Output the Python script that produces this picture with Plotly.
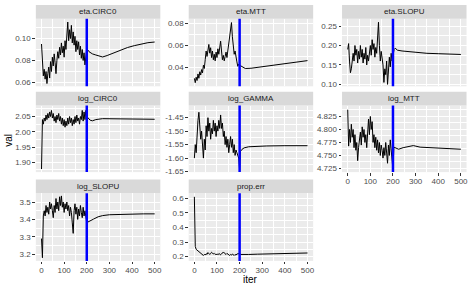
import plotly.graph_objects as go

W, H = 474, 292

PANELS = ["eta.CIRC0", "eta.MTT", "eta.SLOPU",
          "log_CIRC0", "log_GAMMA", "log_MTT",
          "log_SLOPU", "prop.err"]

ITER_BURN = list(range(0, 201, 4))

# ---- eta.CIRC0 ----
eta_circ0_burn = [
    0.095, 0.078, 0.066, 0.072, 0.063, 0.070, 0.059, 0.068, 0.074, 0.064,
    0.079, 0.070, 0.083, 0.075, 0.086, 0.078, 0.068, 0.080, 0.088, 0.082,
    0.092, 0.085, 0.096, 0.087, 0.093, 0.083, 0.098, 0.090, 0.104, 0.115,
    0.098, 0.108, 0.100, 0.112, 0.096, 0.106, 0.094, 0.102, 0.088, 0.098,
    0.090, 0.097, 0.085, 0.093, 0.082, 0.090, 0.080, 0.087, 0.076, 0.084,
    0.091]
eta_circ0_tail_iter = [210, 225, 240, 255, 270, 290, 320, 350, 380, 410, 440, 470, 500]
eta_circ0_tail = [0.088, 0.086, 0.085, 0.084, 0.0832, 0.0845, 0.0870, 0.0895,
                  0.0918, 0.0935, 0.0950, 0.0962, 0.0968]

# ---- eta.MTT ----
eta_mtt_burn = [
    0.030, 0.026, 0.031, 0.028, 0.034, 0.030, 0.036, 0.033, 0.038, 0.035,
    0.042, 0.039, 0.047, 0.055, 0.050, 0.057, 0.061, 0.053, 0.058, 0.049,
    0.055, 0.047, 0.052, 0.046, 0.054, 0.049, 0.057, 0.052, 0.060, 0.064,
    0.055, 0.047, 0.051, 0.046, 0.050, 0.054, 0.049, 0.055, 0.060, 0.066,
    0.072, 0.081, 0.068, 0.060, 0.052, 0.055, 0.047, 0.045, 0.041, 0.043,
    0.042]
eta_mtt_tail_iter = [210, 225, 250, 280, 320, 360, 400, 440, 470, 500]
eta_mtt_tail = [0.0405, 0.0390, 0.0392, 0.0400, 0.0410, 0.0422, 0.0435, 0.0447,
                0.0455, 0.0462]

# ---- eta.SLOPU ----
eta_slopu_burn = [
    0.190, 0.205, 0.160, 0.130, 0.140, 0.165, 0.180, 0.160, 0.200, 0.175,
    0.190, 0.155, 0.185, 0.165, 0.200, 0.170, 0.190, 0.155, 0.180, 0.165,
    0.195, 0.150, 0.175, 0.160, 0.190, 0.200, 0.175, 0.215, 0.190, 0.205,
    0.170, 0.195, 0.180, 0.210, 0.260, 0.200, 0.160, 0.185, 0.165, 0.150,
    0.105, 0.140, 0.125, 0.160, 0.100, 0.140, 0.170, 0.145, 0.180, 0.160,
    0.180]
eta_slopu_tail_iter = [205, 210, 220, 240, 270, 300, 350, 400, 450, 500]
eta_slopu_tail = [0.190, 0.193, 0.188, 0.186, 0.184, 0.182, 0.180, 0.179, 0.178, 0.177]

# ---- log_CIRC0 ----
log_circ0_burn = [
    1.878, 2.040, 2.025, 2.045, 2.035, 2.055, 2.040, 2.060, 2.045, 2.065,
    2.050, 2.070, 2.045, 2.060, 2.035, 2.050, 2.030, 2.055, 2.040, 2.060,
    2.035, 2.050, 2.025, 2.045, 2.020, 2.040, 2.015, 2.035, 2.020, 2.045,
    2.025, 2.050, 2.030, 2.045, 2.020, 2.040, 2.025, 2.050, 2.030, 2.055,
    2.035, 2.045, 2.025, 2.050, 2.040, 2.070, 2.035, 2.065, 2.040, 2.070,
    2.050]
log_circ0_tail_iter = [205, 215, 225, 240, 270, 300, 350, 400, 450, 500]
log_circ0_tail = [2.045, 2.038, 2.036, 2.040, 2.043, 2.043, 2.042, 2.042, 2.042, 2.041]

# ---- log_GAMMA ----
log_gamma_burn = [
    -1.60, -1.55, -1.58, -1.50, -1.46, -1.43, -1.48, -1.53, -1.50, -1.56,
    -1.60, -1.53, -1.57, -1.48, -1.52, -1.45, -1.50, -1.47, -1.53, -1.49,
    -1.51, -1.46, -1.50, -1.47, -1.52, -1.48, -1.50, -1.46, -1.49, -1.44,
    -1.49, -1.47, -1.52, -1.50, -1.55, -1.52, -1.56, -1.53, -1.58, -1.55,
    -1.52, -1.56, -1.53, -1.58, -1.55, -1.59, -1.57, -1.58, -1.59, -1.60,
    -1.645]
log_gamma_tail_iter = [204, 210, 220, 240, 270, 320, 400, 500]
log_gamma_tail = [-1.575, -1.568, -1.562, -1.558, -1.556, -1.555, -1.554, -1.554]

# ---- log_MTT ----
log_mtt_burn = [
    4.838, 4.768, 4.800, 4.775, 4.810, 4.785, 4.800, 4.765, 4.790, 4.760,
    4.775, 4.740, 4.765, 4.780, 4.795, 4.770, 4.805, 4.785, 4.800, 4.775,
    4.790, 4.765, 4.800, 4.820, 4.790, 4.825, 4.800, 4.815, 4.775, 4.790,
    4.765, 4.785, 4.760, 4.780, 4.755, 4.775, 4.750, 4.770, 4.760, 4.745,
    4.765, 4.750, 4.775, 4.755, 4.735, 4.770, 4.750, 4.780, 4.755, 4.745,
    4.722]
log_mtt_tail_iter = [204, 212, 225, 245, 270, 290, 320, 360, 400, 450, 500]
log_mtt_tail = [4.766, 4.764, 4.762, 4.765, 4.768, 4.769, 4.766, 4.765, 4.764, 4.763, 4.762]

# ---- log_SLOPU ----
log_slopu_burn = [
    3.29, 3.18, 3.42, 3.45, 3.42, 3.48, 3.44, 3.47, 3.43, 3.50,
    3.46, 3.49, 3.45, 3.41, 3.48, 3.44, 3.52, 3.46, 3.50, 3.45,
    3.53, 3.48, 3.535, 3.47, 3.50, 3.44, 3.49, 3.46, 3.50, 3.45,
    3.48, 3.42, 3.47, 3.44, 3.38, 3.32, 3.45, 3.49, 3.43, 3.47,
    3.40, 3.46, 3.42, 3.48, 3.44, 3.41, 3.47, 3.42, 3.45, 3.40,
    3.38]
log_slopu_tail_iter = [205, 215, 230, 250, 270, 300, 350, 400, 450, 500]
log_slopu_tail = [3.385, 3.390, 3.402, 3.415, 3.422, 3.427, 3.430, 3.432, 3.432, 3.432]

# ---- prop.err ----
prop_err_burn = [
    0.610, 0.270, 0.250, 0.245, 0.235, 0.232, 0.225, 0.222, 0.215, 0.212,
    0.208, 0.215, 0.212, 0.220, 0.215, 0.228, 0.220, 0.215, 0.222, 0.230,
    0.225, 0.218, 0.222, 0.215, 0.218, 0.212, 0.220, 0.215, 0.220, 0.212,
    0.218, 0.225, 0.232, 0.225, 0.220, 0.215, 0.222, 0.218, 0.212, 0.208,
    0.215, 0.210, 0.218, 0.212, 0.208, 0.215, 0.210, 0.218, 0.220, 0.225,
    0.222]
prop_err_tail_iter = [205, 215, 240, 280, 330, 380, 430, 470, 500]
prop_err_tail = [0.215, 0.214, 0.215, 0.217, 0.219, 0.221, 0.223, 0.224, 0.225]

SERIES = [
    (eta_circ0_burn, eta_circ0_tail_iter, eta_circ0_tail),
    (eta_mtt_burn, eta_mtt_tail_iter, eta_mtt_tail),
    (eta_slopu_burn, eta_slopu_tail_iter, eta_slopu_tail),
    (log_circ0_burn, log_circ0_tail_iter, log_circ0_tail),
    (log_gamma_burn, log_gamma_tail_iter, log_gamma_tail),
    (log_mtt_burn, log_mtt_tail_iter, log_mtt_tail),
    (log_slopu_burn, log_slopu_tail_iter, log_slopu_tail),
    (prop_err_burn, prop_err_tail_iter, prop_err_tail),
]

# y tick values / labels per panel
Y_TICKS = [
    [0.06, 0.08, 0.10],
    [0.04, 0.06, 0.08],
    [0.10, 0.15, 0.20, 0.25],
    [1.90, 1.95, 2.00, 2.05],
    [-1.65, -1.60, -1.55, -1.50, -1.45],
    [4.725, 4.750, 4.775, 4.800, 4.825],
    [3.2, 3.3, 3.4, 3.5],
    [0.2, 0.3, 0.4, 0.5, 0.6],
]
Y_LABELS = [
    ["0.06", "0.08", "0.10"],
    ["0.04", "0.06", "0.08"],
    ["0.10", "0.15", "0.20", "0.25"],
    ["1.90", "1.95", "2.00", "2.05"],
    ["-1.65", "-1.60", "-1.55", "-1.50", "-1.45"],
    ["4.725", "4.750", "4.775", "4.800", "4.825"],
    ["3.2", "3.3", "3.4", "3.5"],
    ["0.2", "0.3", "0.4", "0.5", "0.6"],
]
Y_RANGES = [
    [0.0565, 0.118],
    [0.0227, 0.0845],
    [0.095, 0.269],
    [1.868, 2.086],
    [-1.652, -1.405],
    [4.718, 4.846],
    [3.162, 3.55],
    [0.171, 0.634],
]
X_TICKS = [0, 100, 200, 300, 400, 500]
X_LABELS = ["0", "100", "200", "300", "400", "500"]
X_RANGE = [-25, 525]
VLINE_ITER = 200

# ---- layout geometry (pixels) ----
COL_LEFT = [36, 189.5, 343.5]
PANEL_W = 125
ROW_TOP = [19, 107, 196]
ROW_BOT = [87.5, 174.5, 264.5]
STRIP_H = 14
BOTTOM_OF_COL = {0: 6, 1: 7, 2: 5}  # panel index carrying x tick labels

FONT = "Liberation Sans"
TICK_COL = "#4D4D4D"

fig = go.Figure()
layout = dict(
    width=W, height=H,
    margin=dict(l=0, r=0, t=0, b=0),
    paper_bgcolor="white", plot_bgcolor="#EBEBEB",
    showlegend=False,
    font=dict(family=FONT, size=8, color=TICK_COL),
    shapes=[], annotations=[],
)

for i, name in enumerate(PANELS):
    r, c = divmod(i, 3)
    burn, tail_it, tail = SERIES[i]
    xs = ITER_BURN + tail_it
    ys = burn + tail
    n = i + 1
    xa = "x" if n == 1 else f"x{n}"
    ya = "y" if n == 1 else f"y{n}"
    fig.add_trace(go.Scatter(x=xs, y=ys, mode="lines", xaxis=xa, yaxis=ya,
                             line=dict(color="black", width=1), hoverinfo="skip"))
    x0 = COL_LEFT[c] / W
    x1 = (COL_LEFT[c] + PANEL_W) / W
    y0 = 1 - ROW_BOT[r] / H
    y1 = 1 - ROW_TOP[r] / H
    show_x = BOTTOM_OF_COL[c] == i
    yt = Y_TICKS[i]
    step = yt[1] - yt[0]
    layout[f"xaxis{'' if n == 1 else n}"] = dict(
        domain=[x0, x1], anchor=ya, range=X_RANGE,
        tickmode="array", tickvals=X_TICKS, ticktext=X_LABELS,
        showticklabels=show_x, ticks="outside" if show_x else "",
        ticklen=2.5, tickwidth=1, tickcolor="#333333", ticklabelstandoff=-1,
        tickfont=dict(size=8, color=TICK_COL, family=FONT),
        showgrid=True, gridcolor="white", gridwidth=1.1,
        minor=dict(tickmode="linear", tick0=50, dtick=100, showgrid=True,
                   gridcolor="white", gridwidth=0.55, ticks=""),
        zeroline=False, showline=False, fixedrange=True,
    )
    layout[f"yaxis{'' if n == 1 else n}"] = dict(
        domain=[y0, y1], anchor=xa, range=Y_RANGES[i],
        tickmode="array", tickvals=yt, ticktext=Y_LABELS[i],
        ticks="outside", ticklen=2.5, tickwidth=1, tickcolor="#333333",
        tickfont=dict(size=8, color=TICK_COL, family=FONT),
        showgrid=True, gridcolor="white", gridwidth=1.1,
        minor=dict(tickmode="linear", tick0=yt[0] - step / 2, dtick=step,
                   showgrid=True, gridcolor="white", gridwidth=0.55, ticks=""),
        zeroline=False, showline=False, fixedrange=True,
    )
    # strip
    layout["shapes"].append(dict(
        type="rect", xref="paper", yref="paper",
        x0=x0, x1=x1, y0=y1, y1=1 - (ROW_TOP[r] - STRIP_H) / H,
        fillcolor="#D9D9D9", line=dict(width=0), layer="below"))
    layout["annotations"].append(dict(
        text=name, xref="paper", yref="paper",
        x=(x0 + x1) / 2, y=1 - (ROW_TOP[r] - STRIP_H / 2) / H,
        xanchor="center", yanchor="middle", showarrow=False,
        font=dict(size=8, color="#1A1A1A", family=FONT)))
    # vertical line at the end of the exploratory phase
    layout["shapes"].append(dict(
        type="line", xref=xa, yref=f"{ya} domain",
        x0=VLINE_ITER, x1=VLINE_ITER, y0=0, y1=1,
        line=dict(color="#0000FF", width=2.5), layer="above"))

layout["annotations"].append(dict(
    text="val", xref="paper", yref="paper", x=9 / W, y=1 - 141.7 / H,
    xanchor="center", yanchor="middle", textangle=-90, showarrow=False,
    font=dict(size=10, color="black", family=FONT)))
layout["annotations"].append(dict(
    text="iter", xref="paper", yref="paper", x=252 / W, y=1 - 283 / H,
    xanchor="center", yanchor="middle", showarrow=False,
    font=dict(size=10, color="black", family=FONT)))

fig.update_layout(**layout)
fig.write_html("out.html")
